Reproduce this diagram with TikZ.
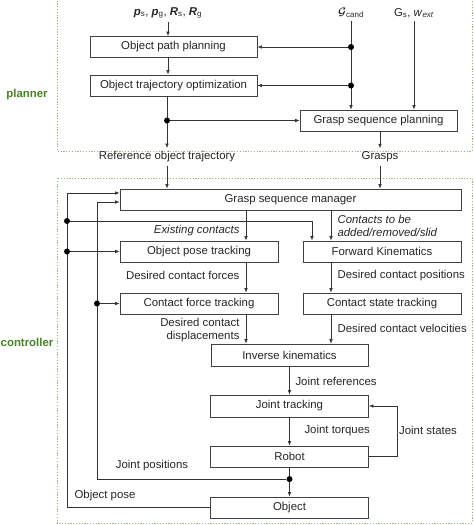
\documentclass[tikz,border=0pt]{standalone}
\usepackage{fontspec}
\setmainfont{Liberation Sans}
\usepackage{amsmath}
\usepackage{bm}
\usepackage{tikz}
\usetikzlibrary{calc,arrows.meta}
\definecolor{ctrlgreen}{RGB}{70,130,40}
\definecolor{boxgreen}{RGB}{150,185,130}
\begin{document}
\begin{tikzpicture}[x=1pt,y=-1pt,
        every node/.style={font=\fontsize{11.4}{13}\selectfont, text=black!85},
        blk/.style={draw=black!75, line width=0.7pt, minimum height=21pt, inner sep=0pt},
        arr/.style={draw=black!80, line width=0.6pt, -{Latex[length=4.5pt,width=3.5pt]}},
        dot/.style={circle, fill=black, inner sep=0pt, minimum size=6pt},
        region/.style={draw=boxgreen, line width=0.9pt, dash pattern=on 1.2pt off 1.6pt},
        part/.style={font=\fontsize{11.4}{13}\selectfont\bfseries, text=ctrlgreen}]
        \useasboundingbox (0,0) rectangle (474,525);
        \draw[region] (57,-5) rectangle (472,151);
        \draw[region] (57,178) rectangle (472,523);
        \node[part] (pl) at (27,95) {planner};
        \node[part] (ct) at (27,342) {controller};

        \node[blk, minimum width=167pt] (opp) at (173.5,47) {Object path planning};
        \node[blk, minimum width=167pt] (oto) at (173.5,85.5) {Object trajectory optimization};
        \node[blk, minimum width=157pt] (gsp) at (378.5,120.5) {Grasp sequence planning};
        \node (pin) at (168,13) {\textbf{\textit{p}}\textsubscript{s}, \textbf{\textit{p}}\textsubscript{g}, \textbf{\textit{R}}\textsubscript{s}, \textbf{\textit{R}}\textsubscript{g}};
        \node (gc) at (351,13) {$\bm{\mathcal{G}}$\textsubscript{cand}};
        \node (gw) at (414,13) {G\textsubscript{s}, \textit{w}\textsubscript{\textit{ext}}};
        \node (rot) at (167,157) {Reference object trajectory};
        \node (gr) at (380,157) {Grasps};

        \draw[arr] (pin.south) -- (pin.south |- opp.north);
        \draw[arr] (opp.south -| pin) -- (oto.north -| pin);
        \draw[arr] (gc.south) -- (gsp.north -| gc);
        \draw[arr] (gw.south) -- (gsp.north -| gw);
        \node[dot] (d1) at (gc |- opp.east) {};
        \node[dot] (d2) at (gc |- oto.east) {};
        \draw[arr] (d1) -- (opp.east);
        \draw[arr] (d2) -- (oto.east);
        \draw[arr] (oto.south -| rot) -- (rot.north);
        \node[dot] (d3) at (rot |- gsp.west) {};
        \draw[arr] (d3) -- (gsp.west);
        \draw[arr] (gsp.south -| gr) -- (gr.north);

        \node[blk, minimum width=341pt] (gsm) at (290.5,199.5) {Grasp sequence manager};
        \node[blk, minimum width=158pt] (opt) at (199,251.5) {Object pose tracking};
        \node[blk, minimum width=158pt] (fk) at (382,251.5) {Forward Kinematics};
        \node[blk, minimum width=158pt] (cft) at (199,303.5) {Contact force tracking};
        \node[blk, minimum width=158pt] (cst) at (382,303.5) {Contact state tracking};
        \node[blk, minimum width=157pt, minimum height=22pt] (ik) at (289.5,355) {Inverse kinematics};
        \node[blk, minimum width=158pt, minimum height=22pt] (jt) at (289.5,406) {Joint tracking};
        \node[blk, minimum width=158pt] (rob) at (289.5,456.5) {Robot};
        \node[blk, minimum width=158pt] (obj) at (289.5,507.5) {Object};

        \coordinate (cl) at (246,0);
        \coordinate (cr) at (331,0);
        \coordinate (cf) at (312,0);
        \coordinate (fbo) at (67,193);
        \coordinate (fbi) at (97,202);

        \draw[arr] (rot.south) -- (rot.south |- gsm.north);
        \draw[arr] (gr.south) -- (gr.south |- gsm.north);
        \draw[arr] (gsm.south -| cl) -- (opt.north -| cl);
        \draw[arr] (gsm.south -| cr) -- (fk.north -| cr);
        \draw[arr] (opt.south -| cl) -- (cft.north -| cl);
        \draw[arr] (fk.south -| cr) -- (cst.north -| cr);
        \draw[arr] (cft.south -| cl) -- (ik.north -| cl);
        \draw[arr] (cst.south -| cr) -- (ik.north -| cr);
        \draw[arr] (ik) -- (jt);
        \draw[arr] (jt) -- (rob);
        \draw[arr] (rob) -- (obj);
        \draw[arr] (rob.east) -- ++(28,0) |- (jt.east);

        \node[dot] (jp) at ($(rob.south)!0.4!(obj.north)$) {};
        \draw[arr] (jp) -| (fbi) -- (fbi -| gsm.west);
        \draw[arr] (obj.west) -| (fbo) -- (fbo -| gsm.west);
        \node[dot] (d4) at (67,221) {};
        \node[dot] (d5) at (fbo |- opt.west) {};
        \node[dot] (d6) at (fbi |- cft.west) {};
        \draw[arr] (d4) -| (fk.north -| cf);
        \draw[arr] (d5) -- (opt.west);
        \draw[arr] (d6) -- (cft.west);

        \node[anchor=east, font=\fontsize{11.4}{13}\selectfont\itshape] (lec) at (243,231) {Existing contacts};
        \node[anchor=west, align=left, font=\fontsize{11.4}{12.5}\selectfont\itshape] (lca) at (334,226) {Contacts to be\\added/removed/slid};
        \node[anchor=east] (ldf) at (243,275) {Desired contact forces};
        \node[anchor=west] (ldp) at (334,276) {Desired contact positions};
        \node[anchor=east, align=right, font=\fontsize{11.4}{12.5}\selectfont] (ldd) at (243,330) {Desired contact\\displacements};
        \node[anchor=west] (ldv) at (334,328) {Desired contact velocities};
        \node[anchor=west] (ljr) at (292,381) {Joint references};
        \node[anchor=west] (ljt) at (301,431) {Joint torques};
        \node (ljs) at (428,430) {Joint states};
        \node (ljp) at (152,466) {Joint positions};
        \node (lop) at (105,496) {Object pose};
    \end{tikzpicture}
\end{document}
